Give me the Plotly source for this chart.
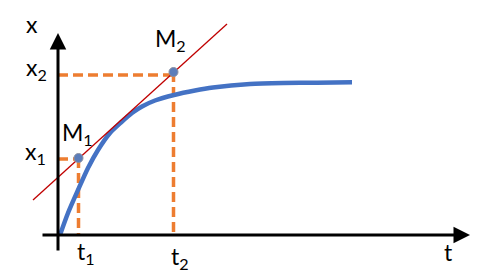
import plotly.graph_objects as go

# Coordinates: t (horizontal), x (vertical); origin at the axes crossing
curve_t = [2, 10, 20, 30, 40, 52, 63, 74, 84, 97, 116, 137, 155, 192, 225, 259, 294]
curve_x = [0, 22, 45, 67, 85, 102, 112.5, 122, 128.5, 134.5, 140, 144.5, 147.5, 151, 152, 152.3, 152.7]

tangent_t = [-25, 169]
tangent_x = [35, 211]

point_names = ["M1", "M2"]
point_t = [20.5, 115.5]
point_x = [77, 163]
level_x = [76, 160]   # x1, x2 dashed levels

W, H = 486, 277
ox, oy = 58, 235  # origin pixel position

fig = go.Figure()

DASH = dict(color="#ED7D31", width=3.5, dash="10px,5px")
# dashed projections
for pt, px_, lx in zip(point_t, point_x, level_x):
    fig.add_trace(go.Scatter(x=[0, pt], y=[lx, lx], mode="lines", line=DASH,
                             hoverinfo="skip", showlegend=False))
    fig.add_trace(go.Scatter(x=[pt, pt], y=[px_, 0], mode="lines", line=DASH,
                             hoverinfo="skip", showlegend=False))

# curve
fig.add_trace(go.Scatter(x=curve_t, y=curve_x, mode="lines",
                         line=dict(color="#4472C4", width=4.5, shape="spline", smoothing=0.7),
                         hoverinfo="skip", showlegend=False))
# tangent
fig.add_trace(go.Scatter(x=tangent_t, y=tangent_x, mode="lines",
                         line=dict(color="#C00000", width=1.3),
                         hoverinfo="skip", showlegend=False))
# points
fig.add_trace(go.Scatter(x=point_t, y=point_x, mode="markers",
                         marker=dict(color="#5B7DBA", size=9, line=dict(color="#8A8FA0", width=1)),
                         hoverinfo="skip", showlegend=False))

# axes with arrows
fig.add_annotation(x=412, y=0, ax=-17, ay=0, xref="x", yref="y", axref="x", ayref="y",
                   showarrow=True, arrowhead=2, arrowwidth=3, arrowsize=1.1, arrowcolor="black", text="")
fig.add_annotation(x=0, y=202, ax=0, ay=-17, xref="x", yref="y", axref="x", ayref="y",
                   showarrow=True, arrowhead=2, arrowwidth=3, arrowsize=1.1, arrowcolor="black", text="")

FONT = dict(family="Lato", size=23, color="black")
labels = [
    ("x", -34, 203),
    ("x<sub>2</sub>", -34, 159),
    ("x<sub>1</sub>", -35, 75),
    ("M<sub>1</sub>", 2, 94),
    ("M<sub>2</sub>", 95, 188),
    ("t<sub>1</sub>", 17, -25),
    ("t<sub>2</sub>", 111, -30),
    ("t", 384, -25),
]
for txt, tx, bx in labels:
    fig.add_annotation(x=tx, y=bx + 8, xref="x", yref="y", text=txt, showarrow=False,
                       xanchor="left", yanchor="middle", font=FONT)

fig.update_layout(
    width=W, height=H, margin=dict(l=0, r=0, t=0, b=0),
    paper_bgcolor="white", plot_bgcolor="white",
    xaxis=dict(range=[-ox, W - ox], visible=False, fixedrange=True),
    yaxis=dict(range=[oy - H, oy], visible=False, fixedrange=True),
)
fig.write_html("out.html")
